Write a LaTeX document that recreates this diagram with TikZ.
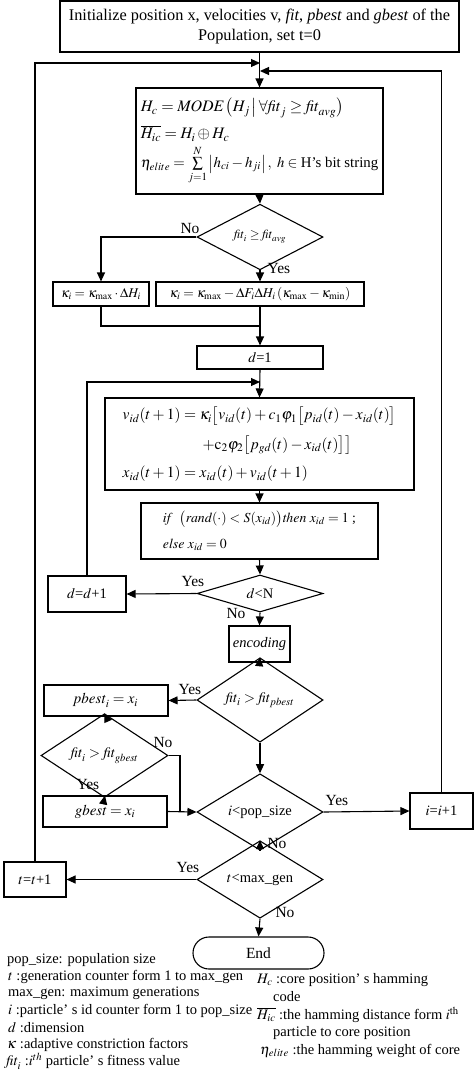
\documentclass[tikz,border=0pt]{standalone}
\usepackage{mathptmx}
\usepackage[no-math]{fontspec}
\setmainfont{Liberation Serif}
\usetikzlibrary{shapes.geometric,shapes.misc,arrows.meta}
\newcommand{\fitx}{\mathit{fit}}
\newcommand{\fsz}[1]{\fontsize{#1}{17}\selectfont}
\begin{document}
\begin{tikzpicture}[x=1pt,y=-1pt,
  every node/.style={font=\fsz{14.5}},
  box/.style={draw,line width=1.1pt,inner sep=2pt},
  dia/.style={draw,diamond,line width=1.1pt,inner sep=0pt},
  term/.style={draw,rounded rectangle,line width=1.1pt,inner sep=0pt},
  arr/.style={line width=1.1pt,-{Triangle[length=9pt,width=8pt]}},
  ln/.style={line width=1.1pt},
  lab/.style={inner sep=0pt,font=\fsz{15.5}},
  leg/.style={anchor=west,inner sep=0pt,font=\fsz{14.5}}]
\useasboundingbox (0,0) rectangle (474,1071);
% nodes
\node[box,minimum width=399pt,minimum height=51pt,align=center,font=\fontsize{16.3}{20}\selectfont] (top) at (259.5,26.5)
  {Initialize position x, velocities v, \textit{fit}, \textit{pbest} and \textit{gbest} of the\\ Population, set t=0};
\node[box,minimum width=247pt,minimum height=106pt,align=left,font=\fontsize{16}{19}\selectfont] (hc) at (259.5,141)
  {$H_c=\mathit{MODE}\left(H_j\,\middle|\,\forall \fitx_j\geq \fitx_{avg}\right)$\\[6pt]
   $\overline{H_{ic}}=H_i\oplus H_c$\\[4pt]
   {\fontsize{14.8}{17}\selectfont$\eta_{elite}=\sum\limits_{j=1}^{N}\left|h_{ci}-h_{ji}\right|,\ h\in\mbox{H's bit string}$}};
\node[dia,minimum width=126pt,minimum height=47pt,font=\fsz{12.5}] (d1) at (260,237) {$\fitx_i\geq \fitx_{avg}$};
\node[box,minimum width=96pt,minimum height=24pt,inner sep=1pt,font=\fsz{13.3}] (kl) at (101,294) {$\kappa_i=\kappa_{\max}\cdot\Delta H_i$};
\node[box,minimum width=208pt,minimum height=24pt,inner sep=1pt,font=\fsz{13.5}] (kr) at (260,294) {$\kappa_i=\kappa_{\max}-\Delta F_i\Delta H_i\left(\kappa_{\max}-\kappa_{\min}\right)$};
\node[box,minimum width=126pt,minimum height=23pt] (dd) at (260,357.5) {$d$=1};
\node[box,minimum width=309pt,minimum height=92pt,align=left,font=\fsz{15.5}] (vel) at (259.5,444)
  {$v_{id}(t+1)=\kappa_i\bigl[v_{id}(t)+c_1\varphi_1\bigl[p_{id}(t)-x_{id}(t)\bigr]$\\[10pt]
   \hspace*{80pt}$+\mathrm{c}_2\varphi_2\bigl[p_{gd}(t)-x_{id}(t)\bigr]\bigr]$\\[10pt]
   $x_{id}(t+1)=x_{id}(t)+v_{id}(t+1)$};
\node[box,minimum width=237pt,minimum height=56pt,align=left,font=\fsz{13.8}] (ifb) at (259.5,531)
  {$\mathit{if}\ \ \bigl(\mathit{rand}(\cdot)<S(x_{id})\bigr)\mathit{then}\ x_{id}=1$ ;\\[9pt]
   $\mathit{else}\ x_{id}=0$};
\node[dia,minimum width=126pt,minimum height=37pt] (dn) at (260,593.5) {$d$<N};
\node[box,minimum width=78pt,minimum height=36pt] (dinc) at (87,594) {$d$=$d$+1};
\node[box,minimum width=61pt,minimum height=36pt] (enc) at (259.5,644) {\textit{encoding}};
\node[dia,minimum width=126pt,minimum height=48pt] (dp) at (260,700) {$\fitx_i>\fitx_{pbest}$};
\node[box,minimum width=124pt,minimum height=31pt,font=\fsz{15}] (pb) at (106,700.5) {$\mathit{pbest}_i=x_i$};
\node[dia,minimum width=127pt,minimum height=51pt] (dg) at (104.5,755.5) {$\fitx_i>\fitx_{gbest}$};
\node[box,minimum width=124pt,minimum height=31pt,font=\fsz{15}] (gb) at (105,811.5) {$\mathit{gbest}=x_i$};
\node[dia,minimum width=126pt,minimum height=52pt] (dpop) at (260,812) {$i$<pop\_size};
\node[box,minimum width=63pt,minimum height=36pt] (iinc) at (441.5,811) {$i$=$i$+1};
\node[dia,minimum width=126pt,minimum height=53pt] (dmax) at (260,879.5) {$t$<max\_gen};
\node[box,minimum width=62pt,minimum height=35pt] (tinc) at (35,879.5) {$t$=$t$+1};
\node[term,minimum width=131pt,minimum height=32pt,font=\fsz{15.5}] (end) at (258.5,953) {End};
% coordinates
\coordinate (jl) at (260,63);
\coordinate (jr) at (260,71);
\coordinate (m1) at (260,326);
\coordinate (jd) at (260,382);
\coordinate (g1) at (180,755.5);
% connectors
\draw[arr] (top.south) -- (hc.north);
\draw[arr] (tinc.north) |- (jl);
\draw[arr] (iinc.north) |- (jr);
\draw[arr] (hc.south) -- (d1.north);
\draw[arr] (d1.west) -| (kl.north);
\draw[arr] (d1.south) -- (kr.north);
\draw[ln] (kl.south) |- (m1);
\draw[arr] (kr.south) -- (dd.north);
\draw[arr] (dd.south) -- (vel.north);
\draw[arr] (dinc.north) |- (jd);
\draw[arr] (vel.south) -- (ifb.north);
\draw[arr] (ifb.south) -- (dn.north);
\draw[arr] (dn.west) -- (dinc.east);
\draw[arr] (dn.south) -- (enc.north);
\draw[arr] (enc.south) -- (dp.north);
\draw[arr] (dp.west) -- (pb.east);
\draw[arr] (dp.south) -- (dpop.north);
\draw[arr] (pb.south) -- (dg.north);
\draw[arr] (dg.south) -- (gb.north);
\draw[ln] (dg.east) -- (g1) -- (g1 |- gb.east);
\draw[arr] (gb.east) -- (dpop.west);
\draw[arr] (dpop.east) -- (iinc.west);
\draw[arr] (dpop.south) -- (dmax.north);
\draw[arr] (dmax.west) -- (tinc.east);
\draw[arr] (dmax.south) -- (end.north);
% labels
\node[lab] at (190,228) {No};
\node[lab] at (279,268) {Yes};
\node[lab] at (193,581) {Yes};
\node[lab] at (236,613) {No};
\node[lab] at (190,689) {Yes};
\node[lab] at (163,742) {No};
\node[lab] at (88,784) {Yes};
\node[lab] at (337,800) {Yes};
\node[lab] at (277,843) {No};
\node[lab] at (188,867) {Yes};
\node[lab] at (285,912) {No};
% legend
\node[leg] (l1) at (7,960) {pop\_size: population size};
\node[leg] (l2) at (8,977) {$t$ :generation counter form 1 to max\_gen};
\node[leg] (l3) at (8,993.5) {max\_gen: maximum generations};
\node[leg] (l4) at (8,1010.5) {$i$ :particle’ s id counter form 1 to pop\_size};
\node[leg] (l5) at (8,1028) {$d$ :dimension};
\node[leg] (l6) at (7,1045) {$\kappa$ :adaptive constriction factors};
\node[leg] (l7) at (6,1061) {$\fitx_i$ :$i^{th}$ particle’ s fitness value};
\node[leg] (r1) at (257,980) {$H_c$ :core position’ s hamming};
\node[leg] (r2) at (273,997) {code};
\node[leg] (r3) at (257,1015) {$\overline{H_{ic}}$ :the hamming distance form $i^{\mathrm{th}}$};
\node[leg] (r4) at (273,1033) {particle to core position};
\node[leg] (r5) at (260,1051) {$\eta_{elite}$ :the hamming weight of core};
\end{tikzpicture}
\end{document}
